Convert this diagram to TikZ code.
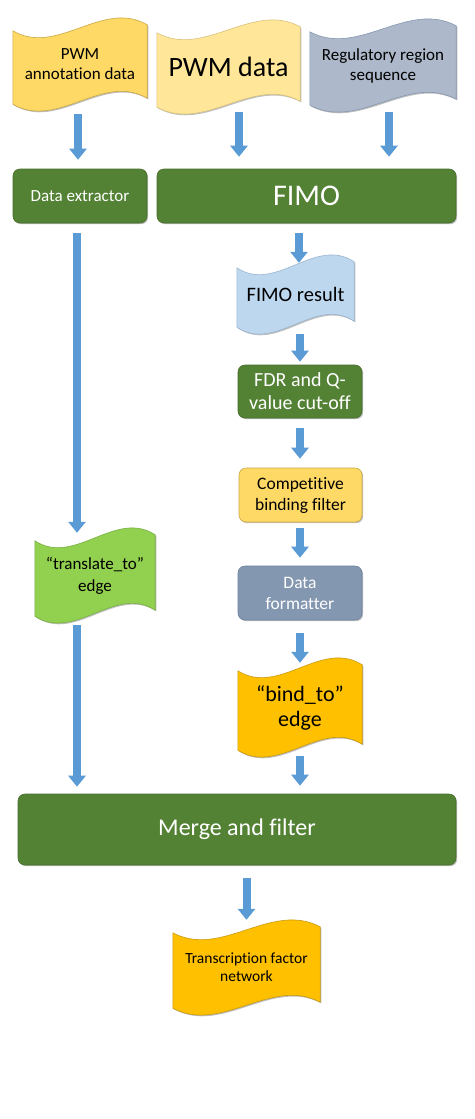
\documentclass[tikz,border=0pt]{standalone}
\usepackage{fontspec}
\setmainfont{Carlito}[Ligatures=NoCommon]
\usetikzlibrary{arrows.meta,calc,shadows,backgrounds}

\definecolor{arrowblue}{HTML}{5B9BD5}
\definecolor{gold}{HTML}{FFD966}
\definecolor{goldedge}{HTML}{C9A945}
\definecolor{lightgold}{HTML}{FFE699}
\definecolor{lightgoldedge}{HTML}{D9C27A}
\definecolor{greyblue}{HTML}{ADB9CA}
\definecolor{greyblueedge}{HTML}{8497B0}
\definecolor{boxgreen}{HTML}{548235}
\definecolor{boxgreenedge}{HTML}{456E2B}
\definecolor{lightblue}{HTML}{BDD7EE}
\definecolor{lightblueedge}{HTML}{9DB5D0}
\definecolor{slate}{HTML}{8497B0}
\definecolor{slateedge}{HTML}{6E819A}
\definecolor{amber}{HTML}{FFC000}
\definecolor{amberedge}{HTML}{C99A10}
\definecolor{leaf}{HTML}{92D050}
\definecolor{leafedge}{HTML}{78B040}

\newcommand{\boxat}[7]{%
  \node[#6, minimum width={#4-#2}, minimum height={#5-#3}] (#1) at ({(#2+#4)/2},{(#3+#5)/2}) {#7};}

% wave (tape) outline drawn behind a named node
\newcommand{\wavefill}[3]{%
  \begin{pgfonlayer}{background}
  \path[fill=#2, draw=#3, line width=0.6pt, softshadow]
    let \p1=(#1.north west), \p2=(#1.south east), \n1={(\x2-\x1)/3} in
    (\x1,\y1-3pt) .. controls (\x1+\n1,\y1-1pt-28pt) and (\x1+2*\n1,\y1+1pt+28pt) .. (\x2,\y1+3pt)
    -- (\x2,\y2+3pt) .. controls (\x1+2*\n1,\y2+1pt+28pt) and (\x1+\n1,\y2-1pt-28pt) .. (\x1,\y2-3pt)
    -- cycle;
  \end{pgfonlayer}}

\tikzset{
  softshadow/.style={drop shadow={shadow xshift=1.2pt, shadow yshift=-1.2pt, opacity=0.25, fill=black}},
  barrow/.style={draw=arrowblue, line width=8pt, -{Triangle[width=17pt,length=11pt]}},
  rbox/.style={rectangle, rounded corners=7pt, fill=#1, draw=#1edge, line width=0.6pt,
    inner sep=0pt, align=center, softshadow},
  wbox/.style={rectangle, inner sep=0pt, align=center},
  fsz/.style 2 args={font={\fontsize{#1}{#2}\selectfont}},
}

\begin{document}
\begin{tikzpicture}[x=1pt, y=-1pt]
\useasboundingbox (0,0) rectangle (474,1119);
\begin{pgfonlayer}{background}
\fill[white] (0,0) rectangle (474,1119);
\end{pgfonlayer}

\coordinate (lcol) at (77,0);
\coordinate (rcol) at (300,0);

% top inputs
\boxat{pwma}{13}{28}{147}{101}{wbox, fsz={17}{20}}{PWM\\annotation data}
\wavefill{pwma}{gold}{goldedge}
\boxat{pwmd}{157}{30}{300}{104}{wbox, fsz={28}{33}}{PWM data}
\wavefill{pwmd}{lightgold}{lightgoldedge}
\boxat{reg}{310}{29}{456}{102}{wbox, fsz={17}{20}}{Regulatory region\\sequence}
\wavefill{reg}{greyblue}{greyblueedge}

% process boxes
\boxat{ext}{13}{169}{147}{223}{rbox=boxgreen, text=white, fsz={17}{20}}{Data extractor}
\boxat{fimo}{157}{169}{456}{223}{rbox=boxgreen, text=white, fsz={30}{36}}{FIMO}

\boxat{res}{237}{265}{354}{324}{wbox, fsz={20.5}{24}}{FIMO result}
\wavefill{res}{lightblue}{lightblueedge}

\boxat{fdr}{238}{365}{362}{418}{rbox=boxgreen, text=white, fsz={20}{23}}{FDR and Q-\\value cut-off}
\boxat{comp}{239}{468}{362}{522}{rbox=gold, fsz={17.5}{21}}{Competitive\\binding filter}
\boxat{form}{238}{566}{362}{620}{rbox=slate, text=white, fsz={17.5}{21}}{Data\\formatter}

\boxat{bind}{238}{668}{362}{747}{wbox, fsz={22}{25}}{“bind\_to”\\edge}
\wavefill{bind}{amber}{amberedge}

\boxat{trans}{35}{538}{155}{613}{wbox, fsz={17}{22}}{“translate\_to”\\edge}
\wavefill{trans}{leaf}{leafedge}

\boxat{merge}{18}{794}{456}{865}{rbox=boxgreen, text=white, fsz={24}{28}}{Merge and filter}

\boxat{tf}{173}{930}{320}{1005}{wbox, fsz={15.5}{18}}{Transcription factor\\network}
\wavefill{tf}{amber}{amberedge}

% connectors
\draw[barrow, shorten <=13pt, shorten >=9pt] ([xshift=-2pt]pwma.south) -- ([xshift=-2pt]pwma.south |- ext.north);
\draw[barrow, shorten <=8pt, shorten >=12pt] ([xshift=10.5pt]pwmd.south) -- ([xshift=10.5pt]pwmd.south |- fimo.north);
\draw[barrow, shorten <=10pt, shorten >=12pt] ([xshift=6pt]reg.south) -- ([xshift=6pt]reg.south |- fimo.north);

\draw[barrow, shorten <=10pt, shorten >=5pt] (lcol |- ext.south) -- (lcol |- trans.north);
\draw[barrow, shorten <=12pt, shorten >=7pt] (lcol |- trans.south) -- (lcol |- merge.north);

\draw[barrow, shorten <=10pt, shorten >=2pt] ([xshift=-7.5pt]fimo.south) -- ([xshift=-7.5pt]fimo.south |- res.north);
\draw[barrow, shorten <=10pt, shorten >=3pt] (res.south -| rcol) -- (fdr.north -| rcol);
\draw[barrow, shorten <=10pt, shorten >=9pt] (fdr.south -| rcol) -- (comp.north -| rcol);
\draw[barrow, shorten <=6pt, shorten >=8pt] (comp.south -| rcol) -- (form.north -| rcol);
\draw[barrow, shorten <=13pt, shorten >=5pt] (form.south -| rcol) -- (bind.north -| rcol);
\draw[barrow, shorten <=9pt, shorten >=8pt] (bind.south -| rcol) -- (merge.north -| rcol);

\draw[barrow, shorten <=13pt, shorten >=10pt] (merge.south -| tf.north) -- (tf.north);
\end{tikzpicture}
\end{document}
